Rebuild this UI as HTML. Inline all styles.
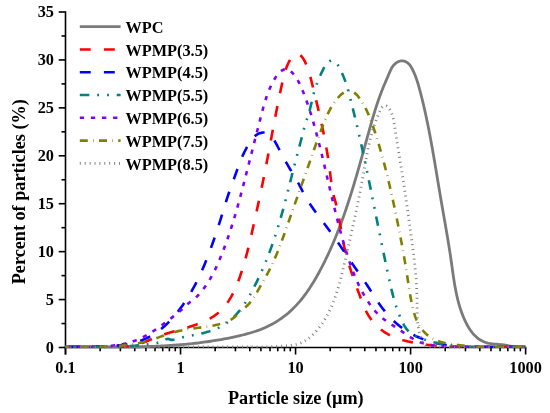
<!DOCTYPE html>
<html><head><meta charset="utf-8"><style>
html,body{margin:0;padding:0;background:#fff;}
svg{display:block;}
.t{font-family:"Liberation Serif","Times New Roman",serif;font-weight:bold;font-size:16.3px;fill:#000;}
.ax{font-family:"Liberation Serif","Times New Roman",serif;font-weight:bold;font-size:18.2px;fill:#000;}
</style></head><body>
<svg width="550" height="413" viewBox="0 0 550 413">
<line x1="65.5" y1="11.2" x2="65.5" y2="354.5" stroke="#000" stroke-width="1.6"/>
<line x1="64.7" y1="347.5" x2="526.42" y2="347.5" stroke="#000" stroke-width="1.6"/>
<line x1="58.7" y1="347.50" x2="65.5" y2="347.50" stroke="#000" stroke-width="1.6"/>
<text x="54" y="352.80" text-anchor="end" class="t">0</text>
<line x1="58.7" y1="299.57" x2="65.5" y2="299.57" stroke="#000" stroke-width="1.6"/>
<text x="54" y="304.87" text-anchor="end" class="t">5</text>
<line x1="58.7" y1="251.64" x2="65.5" y2="251.64" stroke="#000" stroke-width="1.6"/>
<text x="54" y="256.94" text-anchor="end" class="t">10</text>
<line x1="58.7" y1="203.71" x2="65.5" y2="203.71" stroke="#000" stroke-width="1.6"/>
<text x="54" y="209.01" text-anchor="end" class="t">15</text>
<line x1="58.7" y1="155.79" x2="65.5" y2="155.79" stroke="#000" stroke-width="1.6"/>
<text x="54" y="161.09" text-anchor="end" class="t">20</text>
<line x1="58.7" y1="107.86" x2="65.5" y2="107.86" stroke="#000" stroke-width="1.6"/>
<text x="54" y="113.16" text-anchor="end" class="t">25</text>
<line x1="58.7" y1="59.93" x2="65.5" y2="59.93" stroke="#000" stroke-width="1.6"/>
<text x="54" y="65.23" text-anchor="end" class="t">30</text>
<line x1="58.7" y1="12.00" x2="65.5" y2="12.00" stroke="#000" stroke-width="1.6"/>
<text x="54" y="17.30" text-anchor="end" class="t">35</text>
<line x1="61.5" y1="323.54" x2="65.5" y2="323.54" stroke="#000" stroke-width="1.6"/>
<line x1="61.5" y1="275.61" x2="65.5" y2="275.61" stroke="#000" stroke-width="1.6"/>
<line x1="61.5" y1="227.68" x2="65.5" y2="227.68" stroke="#000" stroke-width="1.6"/>
<line x1="61.5" y1="179.75" x2="65.5" y2="179.75" stroke="#000" stroke-width="1.6"/>
<line x1="61.5" y1="131.82" x2="65.5" y2="131.82" stroke="#000" stroke-width="1.6"/>
<line x1="61.5" y1="83.89" x2="65.5" y2="83.89" stroke="#000" stroke-width="1.6"/>
<line x1="61.5" y1="35.96" x2="65.5" y2="35.96" stroke="#000" stroke-width="1.6"/>
<line x1="65.50" y1="347.5" x2="65.50" y2="354.5" stroke="#000" stroke-width="1.6"/>
<text x="65.50" y="372.6" text-anchor="middle" class="t">0.1</text>
<line x1="180.53" y1="347.5" x2="180.53" y2="354.5" stroke="#000" stroke-width="1.6"/>
<text x="180.53" y="372.6" text-anchor="middle" class="t">1</text>
<line x1="295.56" y1="347.5" x2="295.56" y2="354.5" stroke="#000" stroke-width="1.6"/>
<text x="295.56" y="372.6" text-anchor="middle" class="t">10</text>
<line x1="410.59" y1="347.5" x2="410.59" y2="354.5" stroke="#000" stroke-width="1.6"/>
<text x="410.59" y="372.6" text-anchor="middle" class="t">100</text>
<line x1="525.62" y1="347.5" x2="525.62" y2="354.5" stroke="#000" stroke-width="1.6"/>
<text x="525.62" y="372.6" text-anchor="middle" class="t">1000</text>
<line x1="100.13" y1="347.5" x2="100.13" y2="351.3" stroke="#000" stroke-width="1.6"/>
<line x1="120.38" y1="347.5" x2="120.38" y2="351.3" stroke="#000" stroke-width="1.6"/>
<line x1="134.75" y1="347.5" x2="134.75" y2="351.3" stroke="#000" stroke-width="1.6"/>
<line x1="145.90" y1="347.5" x2="145.90" y2="351.3" stroke="#000" stroke-width="1.6"/>
<line x1="155.01" y1="347.5" x2="155.01" y2="351.3" stroke="#000" stroke-width="1.6"/>
<line x1="162.71" y1="347.5" x2="162.71" y2="351.3" stroke="#000" stroke-width="1.6"/>
<line x1="169.38" y1="347.5" x2="169.38" y2="351.3" stroke="#000" stroke-width="1.6"/>
<line x1="175.27" y1="347.5" x2="175.27" y2="351.3" stroke="#000" stroke-width="1.6"/>
<line x1="215.16" y1="347.5" x2="215.16" y2="351.3" stroke="#000" stroke-width="1.6"/>
<line x1="235.41" y1="347.5" x2="235.41" y2="351.3" stroke="#000" stroke-width="1.6"/>
<line x1="249.78" y1="347.5" x2="249.78" y2="351.3" stroke="#000" stroke-width="1.6"/>
<line x1="260.93" y1="347.5" x2="260.93" y2="351.3" stroke="#000" stroke-width="1.6"/>
<line x1="270.04" y1="347.5" x2="270.04" y2="351.3" stroke="#000" stroke-width="1.6"/>
<line x1="277.74" y1="347.5" x2="277.74" y2="351.3" stroke="#000" stroke-width="1.6"/>
<line x1="284.41" y1="347.5" x2="284.41" y2="351.3" stroke="#000" stroke-width="1.6"/>
<line x1="290.30" y1="347.5" x2="290.30" y2="351.3" stroke="#000" stroke-width="1.6"/>
<line x1="330.19" y1="347.5" x2="330.19" y2="351.3" stroke="#000" stroke-width="1.6"/>
<line x1="350.44" y1="347.5" x2="350.44" y2="351.3" stroke="#000" stroke-width="1.6"/>
<line x1="364.81" y1="347.5" x2="364.81" y2="351.3" stroke="#000" stroke-width="1.6"/>
<line x1="375.96" y1="347.5" x2="375.96" y2="351.3" stroke="#000" stroke-width="1.6"/>
<line x1="385.07" y1="347.5" x2="385.07" y2="351.3" stroke="#000" stroke-width="1.6"/>
<line x1="392.77" y1="347.5" x2="392.77" y2="351.3" stroke="#000" stroke-width="1.6"/>
<line x1="399.44" y1="347.5" x2="399.44" y2="351.3" stroke="#000" stroke-width="1.6"/>
<line x1="405.33" y1="347.5" x2="405.33" y2="351.3" stroke="#000" stroke-width="1.6"/>
<line x1="445.22" y1="347.5" x2="445.22" y2="351.3" stroke="#000" stroke-width="1.6"/>
<line x1="465.47" y1="347.5" x2="465.47" y2="351.3" stroke="#000" stroke-width="1.6"/>
<line x1="479.84" y1="347.5" x2="479.84" y2="351.3" stroke="#000" stroke-width="1.6"/>
<line x1="490.99" y1="347.5" x2="490.99" y2="351.3" stroke="#000" stroke-width="1.6"/>
<line x1="500.10" y1="347.5" x2="500.10" y2="351.3" stroke="#000" stroke-width="1.6"/>
<line x1="507.80" y1="347.5" x2="507.80" y2="351.3" stroke="#000" stroke-width="1.6"/>
<line x1="514.47" y1="347.5" x2="514.47" y2="351.3" stroke="#000" stroke-width="1.6"/>
<line x1="520.36" y1="347.5" x2="520.36" y2="351.3" stroke="#000" stroke-width="1.6"/>
<text x="295.8" y="404" text-anchor="middle" class="ax">Particle size (µm)</text>
<text transform="translate(24.5,191.8) rotate(-90)" x="0" y="0" text-anchor="middle" class="ax">Percent of particles (%)</text>
<path d="M65.51,346.80 L67.21,346.80 L68.92,346.80 L70.63,346.80 L72.34,346.80 L74.05,346.80 L75.76,346.80 L77.47,346.80 L79.18,346.80 L80.89,346.80 L82.60,346.80 L84.31,346.80 L86.02,346.80 L87.73,346.80 L89.44,346.80 L91.15,346.80 L92.86,346.80 L94.57,346.80 L96.28,346.80 L98.00,346.80 L99.71,346.80 L101.42,346.80 L103.13,346.80 L104.84,346.80 L106.56,346.80 L108.27,346.80 L109.98,346.80 L111.69,346.80 L113.41,346.80 L115.12,346.80 L116.83,346.80 L118.54,346.80 L120.26,346.80 L121.97,346.80 L123.68,346.80 L125.39,346.80 L127.11,346.80 L128.82,346.80 L130.53,346.80 L132.24,346.80 L133.95,346.80 L135.66,346.80 L137.38,346.80 L139.09,346.78 L140.80,346.74 L142.51,346.69 L144.22,346.64 L145.93,346.59 L147.64,346.54 L149.35,346.48 L151.06,346.42 L152.77,346.35 L154.48,346.29 L156.18,346.21 L157.89,346.14 L159.60,346.06 L161.31,345.97 L163.01,345.88 L164.72,345.79 L166.43,345.69 L168.13,345.59 L169.84,345.48 L171.54,345.37 L173.25,345.25 L174.95,345.13 L176.66,345.00 L178.36,344.87 L180.06,344.74 L181.76,344.59 L183.46,344.45 L185.17,344.29 L186.87,344.13 L188.57,343.97 L190.26,343.80 L191.96,343.62 L193.66,343.44 L195.36,343.25 L197.06,343.05 L198.75,342.85 L200.45,342.64 L202.14,342.43 L203.84,342.21 L205.53,341.98 L207.22,341.74 L208.91,341.50 L210.60,341.25 L212.30,340.99 L213.98,340.73 L215.67,340.46 L217.36,340.18 L219.05,339.89 L220.74,339.60 L222.42,339.30 L224.11,338.98 L225.79,338.67 L227.47,338.34 L229.15,338.01 L230.84,337.66 L232.52,337.31 L234.19,336.95 L235.87,336.58 L237.55,336.21 L239.23,335.82 L240.90,335.42 L242.57,335.01 L244.24,334.59 L245.90,334.16 L247.56,333.71 L249.22,333.24 L250.86,332.76 L252.50,332.26 L254.14,331.75 L255.76,331.21 L257.38,330.65 L258.99,330.07 L260.59,329.47 L262.18,328.85 L263.75,328.20 L265.32,327.52 L266.87,326.82 L268.41,326.09 L269.94,325.33 L271.45,324.54 L272.95,323.72 L274.43,322.87 L275.89,322.00 L277.34,321.10 L278.78,320.17 L280.19,319.21 L281.59,318.23 L282.97,317.22 L284.34,316.19 L285.68,315.14 L287.00,314.06 L288.31,312.96 L289.59,311.83 L290.86,310.69 L292.10,309.52 L293.33,308.33 L294.53,307.13 L295.71,305.90 L296.87,304.65 L298.01,303.39 L299.14,302.11 L300.24,300.81 L301.33,299.49 L302.40,298.16 L303.45,296.82 L304.49,295.46 L305.51,294.08 L306.51,292.70 L307.50,291.29 L308.47,289.88 L309.43,288.46 L310.37,287.02 L311.30,285.58 L312.22,284.12 L313.12,282.66 L314.01,281.19 L314.89,279.71 L315.76,278.22 L316.62,276.73 L317.46,275.23 L318.30,273.72 L319.12,272.21 L319.94,270.69 L320.75,269.18 L321.55,267.66 L322.34,266.13 L323.12,264.60 L323.89,263.07 L324.65,261.54 L325.41,260.00 L326.16,258.46 L326.90,256.91 L327.63,255.37 L328.36,253.82 L329.07,252.27 L329.78,250.71 L330.48,249.15 L331.18,247.59 L331.87,246.03 L332.55,244.46 L333.22,242.89 L333.89,241.32 L334.55,239.75 L335.20,238.17 L335.85,236.59 L336.49,235.01 L337.12,233.43 L337.75,231.84 L338.37,230.25 L338.99,228.66 L339.59,227.07 L340.20,225.47 L340.80,223.87 L341.39,222.27 L341.98,220.67 L342.56,219.07 L343.14,217.46 L343.71,215.86 L344.27,214.25 L344.84,212.63 L345.39,211.02 L345.95,209.41 L346.49,207.79 L347.04,206.17 L347.58,204.55 L348.11,202.93 L348.64,201.31 L349.17,199.68 L349.69,198.06 L350.21,196.43 L350.73,194.80 L351.24,193.17 L351.75,191.54 L352.25,189.90 L352.75,188.27 L353.25,186.63 L353.75,185.00 L354.24,183.36 L354.73,181.72 L355.22,180.08 L355.70,178.44 L356.19,176.80 L356.67,175.15 L357.14,173.51 L357.62,171.87 L358.09,170.22 L358.57,168.57 L359.04,166.93 L359.51,165.28 L359.97,163.63 L360.44,161.98 L360.90,160.33 L361.37,158.68 L361.83,157.03 L362.29,155.38 L362.75,153.73 L363.21,152.08 L363.67,150.43 L364.13,148.78 L364.58,147.13 L365.04,145.47 L365.50,143.82 L365.95,142.17 L366.41,140.52 L366.87,138.87 L367.33,137.21 L367.78,135.56 L368.24,133.91 L368.70,132.26 L369.16,130.61 L369.62,128.95 L370.08,127.30 L370.55,125.65 L371.02,124.01 L371.49,122.36 L371.96,120.71 L372.44,119.07 L372.92,117.43 L373.41,115.79 L373.90,114.15 L374.40,112.51 L374.90,110.88 L375.41,109.25 L375.92,107.63 L376.45,106.00 L376.98,104.38 L377.52,102.76 L378.06,101.15 L378.62,99.54 L379.18,97.94 L379.76,96.34 L380.34,94.74 L380.94,93.15 L381.54,91.57 L382.16,89.99 L382.79,88.41 L383.43,86.84 L384.09,85.28 L384.75,83.72 L385.42,82.16 L386.10,80.60 L386.78,79.04 L387.46,77.47 L388.13,75.90 L388.80,74.32 L389.46,72.73 L390.14,71.14 L390.87,69.58 L391.68,68.06 L392.61,66.60 L393.67,65.22 L394.89,63.95 L396.24,62.82 L397.70,61.89 L399.26,61.21 L400.88,60.83 L402.55,60.78 L404.21,61.09 L405.82,61.70 L407.29,62.57 L408.59,63.66 L409.73,64.94 L410.75,66.35 L411.65,67.86 L412.48,69.42 L413.26,71.01 L413.98,72.60 L414.67,74.19 L415.31,75.79 L415.92,77.40 L416.49,79.01 L417.03,80.63 L417.55,82.25 L418.05,83.87 L418.53,85.50 L418.99,87.13 L419.44,88.77 L419.88,90.40 L420.31,92.04 L420.74,93.69 L421.16,95.33 L421.58,96.98 L421.99,98.62 L422.40,100.27 L422.80,101.93 L423.20,103.58 L423.59,105.24 L423.97,106.90 L424.36,108.56 L424.73,110.22 L425.11,111.88 L425.47,113.55 L425.84,115.21 L426.20,116.88 L426.55,118.55 L426.90,120.22 L427.25,121.89 L427.60,123.57 L427.94,125.24 L428.27,126.92 L428.61,128.60 L428.94,130.28 L429.26,131.96 L429.59,133.64 L429.91,135.32 L430.22,137.00 L430.54,138.69 L430.85,140.37 L431.16,142.06 L431.47,143.75 L431.77,145.43 L432.08,147.12 L432.38,148.81 L432.67,150.50 L432.97,152.19 L433.27,153.88 L433.56,155.57 L433.85,157.26 L434.14,158.95 L434.43,160.64 L434.72,162.33 L435.00,164.03 L435.29,165.72 L435.57,167.41 L435.85,169.10 L436.14,170.80 L436.42,172.49 L436.70,174.18 L436.98,175.87 L437.26,177.56 L437.54,179.25 L437.83,180.95 L438.11,182.64 L438.39,184.33 L438.67,186.02 L438.95,187.71 L439.23,189.39 L439.52,191.08 L439.80,192.77 L440.08,194.46 L440.37,196.14 L440.66,197.83 L440.94,199.51 L441.23,201.19 L441.52,202.88 L441.81,204.56 L442.11,206.24 L442.40,207.92 L442.69,209.60 L442.99,211.28 L443.28,212.96 L443.57,214.64 L443.87,216.32 L444.16,217.99 L444.46,219.67 L444.75,221.35 L445.04,223.03 L445.34,224.71 L445.63,226.39 L445.92,228.07 L446.21,229.74 L446.49,231.42 L446.78,233.11 L447.07,234.79 L447.35,236.47 L447.63,238.15 L447.91,239.83 L448.19,241.52 L448.47,243.20 L448.74,244.89 L449.01,246.58 L449.28,248.27 L449.55,249.96 L449.81,251.65 L450.07,253.34 L450.33,255.04 L450.58,256.73 L450.83,258.43 L451.08,260.13 L451.32,261.83 L451.56,263.53 L451.80,265.24 L452.03,266.94 L452.27,268.65 L452.51,270.35 L452.75,272.06 L453.00,273.76 L453.24,275.47 L453.50,277.17 L453.75,278.88 L454.02,280.58 L454.29,282.27 L454.57,283.97 L454.86,285.67 L455.16,287.36 L455.48,289.04 L455.80,290.73 L456.14,292.41 L456.49,294.09 L456.85,295.76 L457.24,297.42 L457.63,299.09 L458.05,300.74 L458.49,302.40 L458.94,304.04 L459.41,305.68 L459.91,307.31 L460.43,308.94 L460.97,310.56 L461.54,312.17 L462.13,313.77 L462.75,315.36 L463.39,316.95 L464.06,318.53 L464.76,320.10 L465.49,321.65 L466.26,323.20 L467.05,324.72 L467.89,326.22 L468.76,327.69 L469.67,329.13 L470.62,330.52 L471.62,331.88 L472.66,333.18 L473.75,334.44 L474.89,335.63 L476.09,336.77 L477.33,337.83 L478.64,338.83 L480.00,339.75 L481.42,340.58 L482.90,341.33 L484.45,341.99 L486.07,342.55 L487.75,343.02 L489.50,343.38 L491.30,343.66 L493.13,343.88 L494.97,344.06 L496.81,344.22 L498.62,344.37 L500.40,344.54 L502.12,344.74 L503.79,344.98 L505.42,345.23 L507.02,345.49 L508.61,345.76 L510.18,346.03 L511.76,346.28 L513.35,346.51 L514.95,346.71 L516.59,346.80 L518.27,346.80 L520.00,346.80 L521.79,346.80 L523.65,346.80 L525.59,346.80" fill="none" stroke="#7a7a7a" stroke-width="2.8"/>
<path d="M65.50,346.80 L67.26,346.80 L69.02,346.80 L70.78,346.80 L72.53,346.80 L74.29,346.80 L76.04,346.80 L77.79,346.80 L79.54,346.80 L81.30,346.80 L83.05,346.80 L84.80,346.80 L86.55,346.80 L88.30,346.80 L90.05,346.80 L91.80,346.80 L93.55,346.80 L95.30,346.80 L97.05,346.80 L98.81,346.80 L100.56,346.80 L102.32,346.80 L104.08,346.80 L105.84,346.80 L107.60,346.80 L109.37,346.80 L111.13,346.80 L112.90,346.80 L114.67,346.80 L116.44,346.80 L118.21,346.80 L119.98,346.80 L121.74,346.80 L123.50,346.74 L125.25,346.65 L127.00,346.52 L128.74,346.35 L130.48,346.14 L132.21,345.88 L133.92,345.57 L135.63,345.20 L137.32,344.77 L139.01,344.28 L140.68,343.71 L142.34,343.08 L143.98,342.40 L145.62,341.69 L147.26,340.95 L148.89,340.22 L150.52,339.51 L152.15,338.82 L153.78,338.16 L155.42,337.52 L157.05,336.90 L158.69,336.31 L160.33,335.73 L161.97,335.17 L163.62,334.63 L165.26,334.10 L166.91,333.58 L168.56,333.07 L170.21,332.58 L171.87,332.08 L173.52,331.60 L175.18,331.11 L176.84,330.63 L178.51,330.15 L180.18,329.67 L181.85,329.18 L183.52,328.68 L185.20,328.18 L186.88,327.67 L188.56,327.15 L190.24,326.61 L191.93,326.07 L193.62,325.50 L195.31,324.92 L196.99,324.31 L198.66,323.69 L200.32,323.04 L201.97,322.36 L203.60,321.66 L205.22,320.93 L206.81,320.17 L208.38,319.37 L209.92,318.54 L211.43,317.67 L212.91,316.76 L214.35,315.81 L215.76,314.82 L217.12,313.79 L218.45,312.71 L219.72,311.58 L220.96,310.41 L222.16,309.19 L223.31,307.94 L224.42,306.64 L225.50,305.31 L226.54,303.94 L227.55,302.54 L228.52,301.11 L229.46,299.65 L230.36,298.16 L231.24,296.64 L232.08,295.10 L232.90,293.54 L233.69,291.96 L234.45,290.36 L235.19,288.74 L235.91,287.10 L236.60,285.46 L237.28,283.80 L237.93,282.13 L238.56,280.45 L239.18,278.77 L239.78,277.09 L240.36,275.40 L240.93,273.71 L241.49,272.02 L242.04,270.33 L242.57,268.65 L243.09,266.96 L243.60,265.28 L244.10,263.59 L244.59,261.91 L245.07,260.22 L245.54,258.54 L246.00,256.85 L246.45,255.17 L246.90,253.48 L247.33,251.80 L247.76,250.11 L248.19,248.43 L248.60,246.74 L249.02,245.05 L249.42,243.36 L249.82,241.68 L250.22,239.99 L250.61,238.29 L251.00,236.60 L251.39,234.91 L251.77,233.21 L252.15,231.52 L252.53,229.82 L252.91,228.12 L253.29,226.41 L253.66,224.71 L254.04,223.00 L254.42,221.30 L254.80,219.59 L255.17,217.88 L255.55,216.16 L255.93,214.45 L256.31,212.73 L256.68,211.01 L257.06,209.29 L257.44,207.57 L257.81,205.85 L258.18,204.13 L258.56,202.41 L258.93,200.68 L259.30,198.96 L259.67,197.23 L260.04,195.51 L260.40,193.78 L260.77,192.06 L261.13,190.33 L261.49,188.60 L261.85,186.88 L262.21,185.15 L262.56,183.43 L262.92,181.70 L263.27,179.98 L263.62,178.26 L263.96,176.53 L264.30,174.81 L264.64,173.09 L264.98,171.37 L265.32,169.65 L265.65,167.93 L265.99,166.21 L266.32,164.49 L266.65,162.77 L266.98,161.06 L267.30,159.34 L267.63,157.62 L267.96,155.90 L268.28,154.18 L268.60,152.47 L268.92,150.75 L269.25,149.03 L269.57,147.31 L269.89,145.59 L270.21,143.87 L270.53,142.15 L270.85,140.43 L271.17,138.71 L271.49,136.99 L271.81,135.27 L272.14,133.55 L272.46,131.82 L272.78,130.10 L273.11,128.38 L273.43,126.65 L273.76,124.93 L274.08,123.20 L274.41,121.47 L274.74,119.75 L275.07,118.02 L275.40,116.29 L275.74,114.57 L276.07,112.84 L276.41,111.12 L276.75,109.39 L277.08,107.67 L277.43,105.95 L277.77,104.23 L278.11,102.51 L278.46,100.79 L278.81,99.07 L279.16,97.36 L279.51,95.65 L279.87,93.94 L280.23,92.24 L280.59,90.53 L280.95,88.83 L281.32,87.13 L281.68,85.44 L282.05,83.75 L282.43,82.06 L282.80,80.38 L283.19,78.70 L283.59,77.02 L284.01,75.35 L284.45,73.68 L284.93,72.01 L285.45,70.34 L286.02,68.68 L286.64,67.01 L287.31,65.35 L288.05,63.69 L288.86,62.03 L289.75,60.37 L290.72,58.71 L291.79,57.11 L292.96,55.71 L294.25,54.64 L295.69,54.04 L297.25,54.01 L298.84,54.48 L300.33,55.34 L301.66,56.52 L302.83,57.94 L303.87,59.55 L304.79,61.29 L305.62,63.08 L306.37,64.86 L307.06,66.61 L307.70,68.33 L308.29,70.01 L308.83,71.66 L309.34,73.29 L309.81,74.90 L310.26,76.50 L310.68,78.09 L311.09,79.68 L311.49,81.28 L311.88,82.88 L312.27,84.49 L312.66,86.12 L313.06,87.77 L313.47,89.43 L313.88,91.11 L314.29,92.80 L314.71,94.50 L315.13,96.21 L315.55,97.93 L315.97,99.66 L316.39,101.39 L316.81,103.13 L317.23,104.87 L317.65,106.61 L318.06,108.35 L318.47,110.09 L318.88,111.83 L319.29,113.57 L319.69,115.30 L320.08,117.03 L320.47,118.76 L320.86,120.49 L321.24,122.21 L321.62,123.93 L321.99,125.65 L322.36,127.37 L322.72,129.08 L323.08,130.80 L323.43,132.51 L323.78,134.22 L324.12,135.94 L324.46,137.65 L324.79,139.36 L325.12,141.07 L325.44,142.78 L325.76,144.50 L326.07,146.21 L326.37,147.92 L326.67,149.64 L326.97,151.35 L327.25,153.07 L327.53,154.79 L327.81,156.51 L328.08,158.23 L328.34,159.95 L328.60,161.68 L328.85,163.41 L329.10,165.14 L329.34,166.87 L329.57,168.61 L329.79,170.35 L330.01,172.10 L330.22,173.84 L330.43,175.59 L330.63,177.35 L330.84,179.10 L331.05,180.85 L331.26,182.60 L331.49,184.34 L331.74,186.08 L332.01,187.80 L332.30,189.51 L332.62,191.21 L332.97,192.90 L333.36,194.56 L333.78,196.21 L334.25,197.84 L334.73,199.46 L335.21,201.08 L335.67,202.71 L336.11,204.36 L336.53,206.01 L336.92,207.68 L337.30,209.35 L337.66,211.04 L338.01,212.73 L338.34,214.43 L338.67,216.14 L338.98,217.85 L339.29,219.57 L339.58,221.29 L339.88,223.02 L340.17,224.75 L340.45,226.48 L340.74,228.22 L341.03,229.95 L341.32,231.69 L341.62,233.43 L341.92,235.17 L342.23,236.90 L342.55,238.64 L342.88,240.37 L343.22,242.10 L343.57,243.82 L343.94,245.54 L344.33,247.25 L344.73,248.96 L345.14,250.67 L345.57,252.37 L346.01,254.07 L346.46,255.77 L346.92,257.46 L347.39,259.15 L347.88,260.83 L348.37,262.51 L348.88,264.19 L349.39,265.87 L349.92,267.54 L350.45,269.21 L350.99,270.88 L351.54,272.54 L352.09,274.21 L352.66,275.87 L353.23,277.52 L353.80,279.18 L354.38,280.84 L354.97,282.49 L355.56,284.14 L356.15,285.79 L356.75,287.44 L357.35,289.09 L357.95,290.74 L358.56,292.38 L359.17,294.03 L359.78,295.67 L360.39,297.32 L361.00,298.96 L361.62,300.60 L362.24,302.23 L362.88,303.86 L363.54,305.48 L364.23,307.09 L364.94,308.68 L365.68,310.26 L366.45,311.82 L367.27,313.35 L368.13,314.87 L369.04,316.36 L370.00,317.82 L371.02,319.25 L372.10,320.65 L373.22,322.02 L374.39,323.36 L375.61,324.65 L376.88,325.91 L378.18,327.13 L379.53,328.30 L380.91,329.43 L382.32,330.52 L383.77,331.56 L385.24,332.54 L386.74,333.48 L388.26,334.36 L389.81,335.19 L391.37,335.96 L392.96,336.68 L394.56,337.36 L396.17,337.99 L397.80,338.58 L399.45,339.14 L401.11,339.65 L402.78,340.13 L404.46,340.59 L406.15,341.01 L407.84,341.41 L409.55,341.78 L411.26,342.14 L412.97,342.48 L414.69,342.81 L416.41,343.12 L418.14,343.42 L419.87,343.70 L421.60,343.97 L423.34,344.23 L425.07,344.47 L426.82,344.70 L428.56,344.92 L430.30,345.12 L432.05,345.32 L433.80,345.50 L435.55,345.67 L437.30,345.83 L439.05,345.98 L440.81,346.13 L442.56,346.26 L444.32,346.38 L446.07,346.49 L447.83,346.59 L449.59,346.69 L451.34,346.77 L453.10,346.80 L454.86,346.80 L456.61,346.80 L458.37,346.80 L460.12,346.80 L461.88,346.80 L463.63,346.80 L465.38,346.80 L467.14,346.80 L468.89,346.80 L470.64,346.80 L472.40,346.80 L474.15,346.80 L475.90,346.80 L477.65,346.80 L479.40,346.80 L481.16,346.80 L482.91,346.80 L484.66,346.80 L486.41,346.80 L488.16,346.80 L489.92,346.80 L491.67,346.80 L493.42,346.80 L495.17,346.80 L496.93,346.80 L498.68,346.80 L500.43,346.80 L502.18,346.80 L503.94,346.80 L505.69,346.80 L507.45,346.80 L509.20,346.80 L510.95,346.80 L512.71,346.80 L514.46,346.80 L516.22,346.80 L517.98,346.80 L519.73,346.80 L521.49,346.80 L523.25,346.80 L525.01,346.80" fill="none" stroke="#ff0000" stroke-width="2.6" stroke-dasharray="10.9 13.2" stroke-dashoffset="19.65"/>
<path d="M65.65,346.80 L66.97,346.80 L68.30,346.80 L69.64,346.80 L70.98,346.80 L72.34,346.80 L73.70,346.80 L75.06,346.80 L76.44,346.80 L77.81,346.78 L79.20,346.77 L80.59,346.76 L81.99,346.75 L83.39,346.74 L84.79,346.73 L86.20,346.73 L87.61,346.72 L89.03,346.72 L90.45,346.71 L91.87,346.70 L93.29,346.69 L94.72,346.67 L96.15,346.65 L97.57,346.63 L99.00,346.60 L100.43,346.57 L101.86,346.53 L103.29,346.48 L104.72,346.43 L106.15,346.37 L107.58,346.30 L109.00,346.22 L110.43,346.13 L111.85,346.04 L113.27,345.93 L114.68,345.81 L116.09,345.68 L117.50,345.53 L118.91,345.38 L120.31,345.21 L121.70,345.02 L123.09,344.83 L124.47,344.61 L125.85,344.38 L127.22,344.14 L128.59,343.87 L129.95,343.59 L131.30,343.30 L132.64,342.98 L133.98,342.64 L135.31,342.29 L136.63,341.91 L137.94,341.51 L139.24,341.09 L140.53,340.65 L141.81,340.19 L143.08,339.70 L144.34,339.19 L145.59,338.65 L146.82,338.09 L148.05,337.50 L149.26,336.89 L150.46,336.25 L151.65,335.58 L152.82,334.89 L153.98,334.17 L155.13,333.43 L156.27,332.66 L157.40,331.87 L158.51,331.06 L159.61,330.23 L160.69,329.37 L161.77,328.50 L162.83,327.60 L163.88,326.69 L164.92,325.76 L165.94,324.81 L166.96,323.85 L167.96,322.87 L168.95,321.87 L169.93,320.86 L170.89,319.84 L171.85,318.80 L172.79,317.76 L173.72,316.70 L174.64,315.63 L175.54,314.55 L176.44,313.46 L177.32,312.36 L178.19,311.26 L179.05,310.14 L179.90,309.03 L180.74,307.90 L181.57,306.77 L182.38,305.64 L183.19,304.50 L183.98,303.35 L184.76,302.20 L185.54,301.04 L186.30,299.88 L187.05,298.71 L187.79,297.53 L188.53,296.35 L189.25,295.17 L189.96,293.98 L190.67,292.79 L191.36,291.59 L192.05,290.38 L192.73,289.18 L193.40,287.96 L194.06,286.75 L194.71,285.53 L195.36,284.30 L195.99,283.07 L196.62,281.83 L197.24,280.60 L197.85,279.35 L198.46,278.11 L199.06,276.86 L199.65,275.60 L200.24,274.35 L200.81,273.09 L201.39,271.82 L201.95,270.55 L202.51,269.28 L203.06,268.01 L203.61,266.73 L204.15,265.45 L204.69,264.17 L205.22,262.88 L205.74,261.59 L206.26,260.30 L206.78,259.01 L207.29,257.71 L207.80,256.41 L208.30,255.11 L208.79,253.80 L209.29,252.50 L209.78,251.19 L210.26,249.88 L210.74,248.57 L211.22,247.25 L211.70,245.93 L212.17,244.62 L212.64,243.30 L213.10,241.98 L213.56,240.65 L214.02,239.33 L214.48,238.01 L214.93,236.68 L215.38,235.35 L215.83,234.02 L216.28,232.69 L216.72,231.36 L217.16,230.03 L217.60,228.70 L218.03,227.37 L218.46,226.04 L218.89,224.71 L219.32,223.38 L219.74,222.04 L220.16,220.71 L220.58,219.38 L221.00,218.05 L221.41,216.72 L221.82,215.38 L222.23,214.05 L222.64,212.72 L223.05,211.40 L223.45,210.07 L223.86,208.74 L224.26,207.41 L224.66,206.09 L225.07,204.77 L225.48,203.45 L225.89,202.13 L226.30,200.81 L226.72,199.50 L227.14,198.19 L227.57,196.88 L228.00,195.57 L228.44,194.27 L228.88,192.97 L229.33,191.67 L229.78,190.37 L230.24,189.08 L230.70,187.78 L231.16,186.49 L231.63,185.19 L232.10,183.89 L232.57,182.59 L233.05,181.29 L233.52,179.99 L234.00,178.68 L234.47,177.37 L234.95,176.05 L235.42,174.73 L235.89,173.40 L236.36,172.07 L236.84,170.74 L237.31,169.41 L237.79,168.08 L238.26,166.75 L238.75,165.43 L239.23,164.12 L239.72,162.82 L240.22,161.53 L240.73,160.25 L241.24,159.00 L241.76,157.75 L242.30,156.53 L242.84,155.31 L243.40,154.10 L243.97,152.90 L244.56,151.70 L245.17,150.49 L245.80,149.28 L246.45,148.06 L247.12,146.83 L247.82,145.59 L248.55,144.34 L249.31,143.08 L250.10,141.84 L250.93,140.63 L251.80,139.45 L252.72,138.33 L253.68,137.27 L254.70,136.28 L255.78,135.38 L256.91,134.58 L258.11,133.89 L259.38,133.32 L260.71,132.90 L262.10,132.62 L263.51,132.50 L264.90,132.55 L266.25,132.78 L267.52,133.20 L268.69,133.81 L269.78,134.59 L270.80,135.51 L271.74,136.55 L272.62,137.70 L273.45,138.92 L274.24,140.20 L274.99,141.51 L275.71,142.84 L276.42,144.16 L277.11,145.45 L277.79,146.74 L278.46,148.01 L279.12,149.26 L279.77,150.50 L280.42,151.74 L281.06,152.96 L281.70,154.17 L282.34,155.38 L282.98,156.58 L283.62,157.78 L284.26,158.97 L284.92,160.16 L285.57,161.35 L286.24,162.54 L286.92,163.73 L287.61,164.93 L288.31,166.13 L289.02,167.33 L289.73,168.53 L290.45,169.73 L291.18,170.94 L291.90,172.14 L292.63,173.35 L293.35,174.56 L294.08,175.77 L294.80,176.98 L295.51,178.19 L296.22,179.41 L296.91,180.62 L297.60,181.83 L298.28,183.04 L298.94,184.25 L299.58,185.46 L300.21,186.67 L300.83,187.88 L301.44,189.08 L302.04,190.28 L302.65,191.48 L303.27,192.67 L303.90,193.86 L304.55,195.05 L305.21,196.23 L305.89,197.40 L306.58,198.57 L307.29,199.74 L308.01,200.90 L308.74,202.05 L309.49,203.21 L310.24,204.36 L311.01,205.50 L311.79,206.65 L312.57,207.79 L313.37,208.92 L314.17,210.06 L314.98,211.19 L315.79,212.32 L316.62,213.45 L317.44,214.58 L318.28,215.71 L319.11,216.83 L319.96,217.96 L320.80,219.08 L321.65,220.20 L322.49,221.32 L323.34,222.45 L324.19,223.57 L325.04,224.69 L325.89,225.81 L326.73,226.94 L327.58,228.06 L328.42,229.19 L329.26,230.31 L330.09,231.44 L330.92,232.57 L331.74,233.71 L332.56,234.84 L333.38,235.98 L334.19,237.11 L334.99,238.25 L335.79,239.39 L336.59,240.53 L337.39,241.68 L338.18,242.82 L338.97,243.97 L339.75,245.11 L340.54,246.26 L341.32,247.41 L342.10,248.55 L342.88,249.70 L343.65,250.85 L344.43,252.00 L345.20,253.15 L345.98,254.30 L346.75,255.45 L347.53,256.60 L348.30,257.75 L349.08,258.90 L349.85,260.05 L350.63,261.20 L351.41,262.35 L352.19,263.49 L352.97,264.64 L353.75,265.79 L354.54,266.93 L355.33,268.08 L356.12,269.22 L356.92,270.36 L357.71,271.50 L358.51,272.64 L359.31,273.78 L360.11,274.93 L360.91,276.07 L361.70,277.21 L362.50,278.35 L363.29,279.50 L364.08,280.65 L364.86,281.80 L365.64,282.95 L366.42,284.11 L367.19,285.27 L367.95,286.43 L368.70,287.60 L369.45,288.76 L370.20,289.94 L370.94,291.11 L371.69,292.28 L372.43,293.45 L373.17,294.62 L373.92,295.79 L374.67,296.96 L375.42,298.13 L376.18,299.29 L376.95,300.45 L377.73,301.61 L378.51,302.76 L379.30,303.90 L380.11,305.04 L380.92,306.18 L381.76,307.30 L382.60,308.42 L383.46,309.53 L384.33,310.63 L385.21,311.72 L386.11,312.80 L387.02,313.86 L387.94,314.92 L388.88,315.96 L389.83,316.99 L390.79,318.01 L391.77,319.02 L392.76,320.00 L393.77,320.98 L394.79,321.93 L395.82,322.87 L396.86,323.80 L397.92,324.70 L399.00,325.59 L400.08,326.45 L401.18,327.30 L402.30,328.13 L403.43,328.93 L404.57,329.72 L405.73,330.48 L406.89,331.22 L408.07,331.95 L409.27,332.65 L410.47,333.33 L411.69,333.99 L412.92,334.63 L414.16,335.26 L415.40,335.86 L416.66,336.45 L417.93,337.01 L419.21,337.56 L420.49,338.09 L421.79,338.60 L423.09,339.10 L424.40,339.57 L425.72,340.03 L427.04,340.48 L428.37,340.90 L429.71,341.31 L431.05,341.71 L432.40,342.08 L433.76,342.44 L435.12,342.79 L436.48,343.12 L437.85,343.44 L439.22,343.74 L440.59,344.02 L441.97,344.29 L443.34,344.55 L444.73,344.79 L446.11,345.02 L447.49,345.24 L448.88,345.44 L450.26,345.63 L451.65,345.81 L453.04,345.98 L454.43,346.13 L455.81,346.27 L457.20,346.40 L458.59,346.52 L459.98,346.63 L461.37,346.73 L462.77,346.80 L464.16,346.80 L465.55,346.80 L466.94,346.80 L468.34,346.80 L469.73,346.80 L471.12,346.80 L472.52,346.80 L473.91,346.80 L475.31,346.80 L476.70,346.80 L478.10,346.80 L479.50,346.80 L480.89,346.80 L482.29,346.80 L483.69,346.80 L485.08,346.80 L486.48,346.80 L487.88,346.80 L489.28,346.80 L490.67,346.80 L492.07,346.80 L493.47,346.80 L494.87,346.80 L496.27,346.80 L497.66,346.80 L499.06,346.80 L500.46,346.80 L501.86,346.80 L503.26,346.80 L504.65,346.80 L506.05,346.80 L507.45,346.80 L508.85,346.80 L510.24,346.80 L511.64,346.80 L513.04,346.80 L514.43,346.80 L515.83,346.80 L517.23,346.80 L518.62,346.80 L520.02,346.80 L521.41,346.80 L522.81,346.80 L524.20,346.80 L525.60,346.80" fill="none" stroke="#0000ff" stroke-width="2.6" stroke-dasharray="10.9 13.2" stroke-dashoffset="21.31"/>
<path d="M65.51,346.80 L67.23,346.80 L68.95,346.80 L70.67,346.80 L72.39,346.80 L74.12,346.80 L75.84,346.80 L77.57,346.80 L79.29,346.80 L81.02,346.80 L82.75,346.80 L84.47,346.80 L86.20,346.80 L87.93,346.80 L89.66,346.80 L91.39,346.80 L93.12,346.80 L94.85,346.80 L96.58,346.80 L98.31,346.80 L100.04,346.80 L101.77,346.80 L103.50,346.80 L105.22,346.80 L106.95,346.80 L108.68,346.80 L110.41,346.80 L112.14,346.76 L113.87,346.72 L115.59,346.68 L117.32,346.63 L119.05,346.57 L120.77,346.51 L122.50,346.43 L124.22,346.36 L125.94,346.27 L127.67,346.17 L129.39,346.07 L131.11,345.96 L132.83,345.84 L134.54,345.71 L136.26,345.56 L137.97,345.41 L139.69,345.25 L141.40,345.07 L143.11,344.89 L144.82,344.69 L146.53,344.48 L148.23,344.25 L149.94,344.01 L151.64,343.76 L153.34,343.50 L155.04,343.22 L156.74,342.92 L158.43,342.61 L160.12,342.28 L161.78,341.76 L163.37,340.88 L164.90,339.90 L166.40,339.13 L167.88,338.86 L169.38,339.34 L170.92,339.83 L172.52,339.84 L174.17,339.53 L175.83,339.06 L177.51,338.59 L179.19,338.15 L180.87,337.74 L182.55,337.34 L184.24,336.97 L185.93,336.61 L187.61,336.27 L189.30,335.93 L190.99,335.61 L192.68,335.28 L194.36,334.95 L196.04,334.62 L197.72,334.28 L199.39,333.93 L201.06,333.56 L202.72,333.17 L204.38,332.77 L206.03,332.34 L207.67,331.87 L209.31,331.38 L210.93,330.85 L212.55,330.29 L214.15,329.68 L215.74,329.03 L217.31,328.35 L218.87,327.62 L220.40,326.85 L221.91,326.03 L223.39,325.18 L224.84,324.27 L226.27,323.32 L227.66,322.32 L229.02,321.28 L230.34,320.19 L231.63,319.06 L232.89,317.89 L234.12,316.69 L235.32,315.46 L236.49,314.20 L237.63,312.92 L238.73,311.61 L239.82,310.29 L240.87,308.94 L241.90,307.57 L242.90,306.19 L243.88,304.79 L244.84,303.37 L245.77,301.94 L246.69,300.49 L247.58,299.03 L248.46,297.55 L249.32,296.07 L250.16,294.58 L250.99,293.07 L251.81,291.56 L252.61,290.04 L253.40,288.51 L254.18,286.98 L254.95,285.45 L255.71,283.91 L256.47,282.36 L257.22,280.82 L257.96,279.28 L258.69,277.73 L259.42,276.18 L260.14,274.63 L260.85,273.07 L261.56,271.52 L262.25,269.95 L262.94,268.39 L263.63,266.81 L264.30,265.24 L264.96,263.66 L265.62,262.07 L266.27,260.48 L266.91,258.89 L267.54,257.29 L268.17,255.69 L268.79,254.08 L269.40,252.47 L270.00,250.86 L270.60,249.24 L271.18,247.62 L271.77,246.00 L272.34,244.38 L272.91,242.75 L273.47,241.11 L274.03,239.48 L274.57,237.84 L275.12,236.20 L275.65,234.56 L276.18,232.92 L276.71,231.27 L277.22,229.62 L277.73,227.97 L278.24,226.32 L278.74,224.67 L279.23,223.01 L279.72,221.36 L280.21,219.70 L280.69,218.04 L281.16,216.38 L281.63,214.72 L282.10,213.05 L282.56,211.39 L283.02,209.73 L283.47,208.06 L283.92,206.39 L284.37,204.73 L284.81,203.06 L285.25,201.39 L285.69,199.72 L286.12,198.05 L286.56,196.38 L286.99,194.71 L287.42,193.04 L287.84,191.37 L288.27,189.70 L288.69,188.02 L289.12,186.35 L289.54,184.68 L289.96,183.01 L290.38,181.34 L290.80,179.67 L291.22,177.99 L291.64,176.32 L292.06,174.65 L292.48,172.98 L292.90,171.31 L293.33,169.64 L293.75,167.98 L294.18,166.31 L294.60,164.64 L295.03,162.97 L295.46,161.31 L295.89,159.64 L296.32,157.98 L296.76,156.32 L297.20,154.66 L297.64,153.00 L298.09,151.34 L298.53,149.67 L298.98,148.01 L299.43,146.33 L299.88,144.65 L300.33,142.96 L300.78,141.26 L301.23,139.54 L301.67,137.81 L302.12,136.06 L302.56,134.32 L303.01,132.59 L303.45,130.87 L303.90,129.18 L304.34,127.52 L304.79,125.91 L305.24,124.36 L305.69,122.86 L306.15,121.44 L306.61,120.09 L307.07,118.83 L307.53,117.63 L307.97,116.36 L308.41,115.01 L308.83,113.59 L309.24,112.09 L309.64,110.54 L310.03,108.94 L310.43,107.30 L310.82,105.62 L311.22,103.91 L311.62,102.18 L312.02,100.44 L312.44,98.69 L312.86,96.94 L313.30,95.20 L313.76,93.47 L314.24,91.77 L314.73,90.10 L315.24,88.44 L315.78,86.81 L316.33,85.20 L316.91,83.60 L317.51,82.01 L318.13,80.44 L318.77,78.87 L319.44,77.31 L320.13,75.76 L320.84,74.20 L321.58,72.64 L322.35,71.09 L323.14,69.52 L323.95,67.95 L324.81,66.38 L325.74,64.87 L326.80,63.48 L328.03,62.26 L329.48,61.26 L331.13,60.61 L332.81,60.55 L334.34,61.22 L335.71,62.40 L336.92,63.80 L337.98,65.25 L338.91,66.73 L339.73,68.23 L340.49,69.75 L341.20,71.30 L341.89,72.86 L342.58,74.43 L343.25,76.02 L343.91,77.63 L344.54,79.24 L345.15,80.87 L345.72,82.50 L346.27,84.14 L346.80,85.78 L347.30,87.43 L347.79,89.09 L348.25,90.75 L348.71,92.41 L349.15,94.07 L349.59,95.73 L350.02,97.40 L350.44,99.06 L350.87,100.72 L351.29,102.38 L351.71,104.05 L352.12,105.71 L352.54,107.37 L352.95,109.03 L353.36,110.69 L353.77,112.35 L354.18,114.02 L354.58,115.68 L354.98,117.34 L355.38,119.00 L355.78,120.67 L356.18,122.33 L356.57,123.99 L356.96,125.66 L357.36,127.33 L357.74,128.99 L358.13,130.66 L358.52,132.33 L358.90,134.00 L359.28,135.67 L359.66,137.35 L360.04,139.02 L360.42,140.70 L360.79,142.38 L361.16,144.06 L361.54,145.74 L361.91,147.42 L362.27,149.10 L362.64,150.78 L363.01,152.46 L363.37,154.15 L363.73,155.83 L364.10,157.52 L364.46,159.21 L364.82,160.90 L365.17,162.58 L365.53,164.27 L365.89,165.96 L366.24,167.65 L366.60,169.34 L366.95,171.04 L367.30,172.73 L367.65,174.42 L368.00,176.11 L368.35,177.80 L368.70,179.50 L369.04,181.19 L369.39,182.88 L369.74,184.58 L370.08,186.27 L370.43,187.96 L370.77,189.66 L371.11,191.35 L371.46,193.04 L371.80,194.74 L372.14,196.43 L372.48,198.12 L372.82,199.82 L373.16,201.51 L373.50,203.20 L373.84,204.89 L374.18,206.58 L374.52,208.27 L374.86,209.96 L375.20,211.65 L375.54,213.34 L375.88,215.03 L376.22,216.72 L376.56,218.41 L376.90,220.10 L377.24,221.78 L377.57,223.47 L377.91,225.15 L378.25,226.84 L378.59,228.53 L378.93,230.21 L379.27,231.90 L379.62,233.58 L379.96,235.27 L380.30,236.95 L380.64,238.64 L380.99,240.32 L381.33,242.01 L381.67,243.69 L382.02,245.38 L382.36,247.06 L382.71,248.75 L383.06,250.43 L383.41,252.12 L383.76,253.81 L384.11,255.49 L384.46,257.18 L384.81,258.87 L385.16,260.55 L385.52,262.24 L385.87,263.93 L386.23,265.62 L386.59,267.31 L386.95,269.00 L387.31,270.69 L387.67,272.38 L388.03,274.07 L388.40,275.76 L388.76,277.46 L389.13,279.15 L389.50,280.84 L389.88,282.53 L390.26,284.23 L390.64,285.92 L391.04,287.61 L391.43,289.29 L391.84,290.98 L392.26,292.66 L392.68,294.33 L393.12,296.01 L393.57,297.67 L394.03,299.34 L394.51,300.99 L395.00,302.65 L395.50,304.29 L396.02,305.93 L396.56,307.56 L397.11,309.18 L397.69,310.80 L398.28,312.41 L398.89,314.00 L399.53,315.59 L400.19,317.17 L400.87,318.73 L401.57,320.29 L402.30,321.83 L403.06,323.36 L403.86,324.86 L404.72,326.33 L405.63,327.75 L406.62,329.12 L407.69,330.42 L408.85,331.64 L410.12,332.78 L411.51,333.83 L413.01,334.78 L414.61,335.63 L416.26,336.42 L417.95,337.14 L419.63,337.82 L421.31,338.46 L422.97,339.07 L424.63,339.64 L426.29,340.18 L427.94,340.68 L429.59,341.16 L431.24,341.60 L432.88,342.03 L434.54,342.42 L436.19,342.80 L437.85,343.15 L439.52,343.49 L441.19,343.80 L442.87,344.10 L444.55,344.38 L446.23,344.64 L447.92,344.89 L449.62,345.11 L451.32,345.33 L453.02,345.52 L454.73,345.71 L456.44,345.87 L458.15,346.03 L459.86,346.17 L461.58,346.30 L463.31,346.42 L465.03,346.52 L466.76,346.62 L468.49,346.70 L470.22,346.78 L471.95,346.80 L473.68,346.80 L475.42,346.80 L477.16,346.80 L478.90,346.80 L480.63,346.80 L482.37,346.80 L484.11,346.80 L485.85,346.80 L487.60,346.80 L489.34,346.80 L491.08,346.80 L492.82,346.80 L494.56,346.80 L496.29,346.80 L498.03,346.80 L499.77,346.80 L501.50,346.80 L503.24,346.80 L504.97,346.80 L506.70,346.80 L508.42,346.80 L510.15,346.80 L511.87,346.80 L513.59,346.80 L515.31,346.80 L517.02,346.80 L518.73,346.80 L520.44,346.80 L522.14,346.80 L523.84,346.80 L525.54,346.80" fill="none" stroke="#008080" stroke-width="2.6" stroke-dasharray="9.5 7.9 1.8 8.1 1.8 7.8" stroke-dashoffset="9.91"/>
<path d="M65.62,346.80 L67.18,346.80 L68.76,346.80 L70.35,346.80 L71.94,346.80 L73.55,346.80 L75.16,346.80 L76.79,346.80 L78.42,346.80 L80.05,346.80 L81.69,346.80 L83.34,346.78 L84.99,346.76 L86.65,346.74 L88.31,346.73 L89.98,346.70 L91.65,346.68 L93.31,346.65 L94.99,346.61 L96.66,346.57 L98.33,346.51 L100.00,346.45 L101.67,346.38 L103.34,346.30 L105.01,346.20 L106.68,346.09 L108.34,345.96 L110.00,345.82 L111.65,345.67 L113.30,345.49 L114.95,345.29 L116.59,345.08 L118.22,344.84 L119.85,344.58 L121.46,344.29 L123.07,343.99 L124.67,343.65 L126.26,343.29 L127.84,342.90 L129.41,342.48 L130.97,342.03 L132.52,341.55 L134.06,341.03 L135.58,340.49 L137.09,339.90 L138.58,339.28 L140.06,338.63 L141.53,337.94 L142.99,337.22 L144.43,336.47 L145.86,335.69 L147.28,334.89 L148.69,334.06 L150.09,333.21 L151.48,332.33 L152.86,331.44 L154.23,330.53 L155.59,329.60 L156.95,328.66 L158.30,327.71 L159.65,326.74 L160.99,325.77 L162.32,324.79 L163.65,323.80 L164.98,322.82 L166.30,321.83 L167.62,320.84 L168.94,319.85 L170.25,318.86 L171.55,317.87 L172.85,316.87 L174.14,315.87 L175.41,314.86 L176.67,313.85 L177.92,312.82 L179.15,311.79 L180.36,310.75 L181.55,309.69 L182.72,308.62 L183.87,307.54 L184.99,306.48 L186.09,305.44 L187.17,304.45 L188.23,303.52 L189.27,302.67 L190.29,301.92 L191.30,301.25 L192.34,300.51 L193.42,299.66 L194.52,298.72 L195.63,297.71 L196.75,296.63 L197.87,295.50 L198.97,294.33 L200.04,293.14 L201.09,291.92 L202.11,290.68 L203.11,289.42 L204.08,288.14 L205.04,286.83 L205.97,285.51 L206.88,284.17 L207.77,282.81 L208.64,281.44 L209.49,280.05 L210.32,278.64 L211.13,277.22 L211.93,275.78 L212.71,274.33 L213.47,272.87 L214.22,271.40 L214.95,269.92 L215.67,268.43 L216.38,266.93 L217.07,265.42 L217.75,263.91 L218.42,262.39 L219.07,260.86 L219.72,259.33 L220.36,257.80 L220.99,256.26 L221.61,254.72 L222.22,253.18 L222.83,251.64 L223.42,250.09 L224.01,248.55 L224.60,247.00 L225.17,245.45 L225.74,243.90 L226.30,242.35 L226.86,240.80 L227.41,239.25 L227.95,237.69 L228.48,236.13 L229.01,234.57 L229.54,233.01 L230.05,231.45 L230.57,229.89 L231.07,228.33 L231.57,226.76 L232.07,225.20 L232.56,223.63 L233.05,222.06 L233.53,220.49 L234.00,218.92 L234.48,217.35 L234.94,215.78 L235.41,214.21 L235.87,212.63 L236.32,211.06 L236.77,209.48 L237.22,207.90 L237.67,206.33 L238.11,204.75 L238.55,203.17 L238.98,201.59 L239.42,200.01 L239.85,198.42 L240.27,196.84 L240.70,195.26 L241.12,193.67 L241.54,192.09 L241.96,190.50 L242.38,188.92 L242.79,187.33 L243.21,185.74 L243.62,184.16 L244.03,182.57 L244.44,180.98 L244.85,179.39 L245.26,177.80 L245.66,176.21 L246.07,174.62 L246.48,173.03 L246.88,171.44 L247.29,169.84 L247.70,168.25 L248.10,166.66 L248.51,165.07 L248.92,163.47 L249.32,161.88 L249.73,160.29 L250.14,158.69 L250.54,157.10 L250.95,155.50 L251.35,153.91 L251.76,152.32 L252.17,150.72 L252.57,149.13 L252.98,147.53 L253.39,145.94 L253.79,144.34 L254.20,142.74 L254.61,141.15 L255.01,139.55 L255.42,137.96 L255.83,136.36 L256.24,134.77 L256.64,133.17 L257.05,131.57 L257.46,129.98 L257.87,128.38 L258.27,126.79 L258.68,125.19 L259.09,123.59 L259.50,122.00 L259.91,120.40 L260.32,118.81 L260.72,117.21 L261.13,115.61 L261.55,114.02 L261.96,112.43 L262.38,110.84 L262.81,109.25 L263.24,107.66 L263.68,106.08 L264.14,104.50 L264.60,102.93 L265.08,101.36 L265.57,99.79 L266.08,98.24 L266.60,96.69 L267.14,95.14 L267.71,93.61 L268.29,92.08 L268.90,90.56 L269.53,89.05 L270.18,87.55 L270.86,86.06 L271.57,84.58 L272.31,83.11 L273.08,81.66 L273.88,80.21 L274.72,78.78 L275.59,77.36 L276.50,75.97 L277.47,74.62 L278.53,73.35 L279.69,72.17 L280.97,71.11 L282.39,70.20 L283.94,69.48 L285.55,69.07 L287.13,69.10 L288.61,69.64 L289.98,70.57 L291.26,71.73 L292.45,72.97 L293.57,74.25 L294.62,75.56 L295.61,76.90 L296.54,78.27 L297.41,79.67 L298.23,81.09 L299.01,82.53 L299.74,83.99 L300.45,85.47 L301.12,86.96 L301.77,88.46 L302.39,89.97 L303.00,91.49 L303.60,93.02 L304.20,94.54 L304.78,96.08 L305.35,97.61 L305.91,99.15 L306.47,100.70 L307.01,102.24 L307.55,103.79 L308.08,105.35 L308.60,106.90 L309.12,108.46 L309.62,110.02 L310.12,111.59 L310.62,113.16 L311.10,114.73 L311.58,116.30 L312.06,117.88 L312.52,119.45 L312.99,121.03 L313.44,122.61 L313.89,124.20 L314.34,125.78 L314.78,127.37 L315.22,128.95 L315.65,130.54 L316.08,132.13 L316.51,133.72 L316.93,135.31 L317.34,136.91 L317.76,138.50 L318.17,140.09 L318.58,141.69 L318.99,143.28 L319.39,144.88 L319.79,146.47 L320.19,148.07 L320.58,149.67 L320.98,151.26 L321.37,152.86 L321.76,154.46 L322.15,156.06 L322.53,157.65 L322.92,159.25 L323.30,160.85 L323.68,162.45 L324.06,164.05 L324.44,165.65 L324.82,167.25 L325.20,168.85 L325.57,170.45 L325.95,172.05 L326.32,173.65 L326.69,175.25 L327.07,176.85 L327.44,178.45 L327.81,180.05 L328.19,181.66 L328.56,183.26 L328.93,184.86 L329.31,186.46 L329.68,188.06 L330.05,189.66 L330.43,191.26 L330.81,192.86 L331.18,194.45 L331.56,196.05 L331.94,197.65 L332.32,199.25 L332.70,200.85 L333.08,202.45 L333.46,204.04 L333.85,205.64 L334.24,207.24 L334.63,208.83 L335.02,210.43 L335.41,212.02 L335.80,213.62 L336.20,215.21 L336.60,216.81 L337.00,218.40 L337.41,219.99 L337.82,221.58 L338.23,223.17 L338.64,224.76 L339.06,226.35 L339.48,227.94 L339.90,229.53 L340.33,231.11 L340.76,232.70 L341.19,234.28 L341.63,235.87 L342.07,237.45 L342.52,239.03 L342.97,240.61 L343.42,242.20 L343.88,243.77 L344.34,245.35 L344.81,246.93 L345.28,248.51 L345.76,250.08 L346.24,251.65 L346.73,253.23 L347.22,254.80 L347.72,256.37 L348.23,257.93 L348.74,259.50 L349.26,261.06 L349.79,262.62 L350.33,264.17 L350.87,265.72 L351.43,267.27 L351.99,268.82 L352.57,270.36 L353.16,271.89 L353.75,273.42 L354.36,274.95 L354.98,276.47 L355.62,277.98 L356.26,279.49 L356.92,280.99 L357.60,282.49 L358.28,283.98 L358.99,285.46 L359.71,286.94 L360.44,288.41 L361.19,289.87 L361.95,291.32 L362.74,292.77 L363.54,294.20 L364.35,295.63 L365.19,297.05 L366.05,298.46 L366.92,299.86 L367.81,301.25 L368.73,302.63 L369.66,304.00 L370.62,305.34 L371.60,306.67 L372.61,307.98 L373.64,309.27 L374.69,310.52 L375.78,311.76 L376.89,312.96 L378.03,314.13 L379.20,315.27 L380.40,316.37 L381.63,317.44 L382.88,318.47 L384.17,319.47 L385.48,320.44 L386.81,321.39 L388.15,322.32 L389.51,323.23 L390.88,324.14 L392.26,325.03 L393.64,325.93 L395.02,326.82 L396.41,327.73 L397.79,328.64 L399.16,329.56 L400.52,330.50 L401.88,331.44 L403.23,332.39 L404.59,333.34 L405.94,334.28 L407.30,335.21 L408.66,336.13 L410.03,337.02 L411.41,337.89 L412.80,338.73 L414.20,339.53 L415.63,340.29 L417.07,341.00 L418.53,341.67 L420.02,342.28 L421.52,342.83 L423.06,343.33 L424.61,343.78 L426.18,344.18 L427.77,344.53 L429.38,344.84 L431.00,345.11 L432.63,345.35 L434.28,345.56 L435.94,345.73 L437.60,345.88 L439.27,346.00 L440.95,346.11 L442.63,346.19 L444.31,346.26 L446.00,346.32 L447.68,346.38 L449.36,346.42 L451.04,346.47 L452.72,346.51 L454.38,346.55 L456.05,346.59 L457.71,346.64 L459.37,346.68 L461.03,346.71 L462.68,346.75 L464.33,346.79 L465.97,346.80 L467.62,346.80 L469.26,346.80 L470.90,346.80 L472.53,346.80 L474.17,346.80 L475.80,346.80 L477.44,346.80 L479.07,346.80 L480.70,346.80 L482.33,346.80 L483.96,346.80 L485.58,346.80 L487.21,346.80 L488.84,346.80 L490.47,346.80 L492.10,346.80 L493.73,346.80 L495.36,346.80 L496.99,346.80 L498.62,346.80 L500.25,346.80 L501.89,346.80 L503.53,346.80 L505.16,346.80 L506.81,346.80 L508.45,346.80 L510.09,346.80 L511.74,346.80 L513.39,346.80 L515.05,346.80 L516.71,346.80 L518.37,346.80 L520.03,346.80 L521.70,346.80 L523.37,346.80 L525.05,346.80" fill="none" stroke="#8000ff" stroke-width="2.6" stroke-dasharray="4.3 6.8" stroke-dashoffset="10.20"/>
<path d="M65.56,346.80 L67.13,346.80 L68.69,346.80 L70.26,346.80 L71.83,346.80 L73.41,346.80 L74.99,346.80 L76.58,346.80 L78.16,346.78 L79.75,346.75 L81.34,346.72 L82.94,346.69 L84.53,346.67 L86.13,346.66 L87.73,346.64 L89.33,346.63 L90.94,346.61 L92.54,346.60 L94.15,346.59 L95.75,346.58 L97.36,346.56 L98.97,346.54 L100.58,346.52 L102.19,346.49 L103.79,346.46 L105.40,346.43 L107.01,346.39 L108.62,346.34 L110.22,346.28 L111.83,346.22 L113.43,346.14 L115.03,346.06 L116.63,345.97 L118.23,345.86 L119.83,345.75 L121.42,345.62 L123.01,345.48 L124.60,345.32 L126.19,345.15 L127.77,344.97 L129.35,344.77 L130.93,344.55 L132.50,344.31 L134.07,344.06 L135.64,343.79 L137.20,343.50 L138.76,343.19 L140.31,342.85 L141.86,342.50 L143.40,342.12 L144.94,341.72 L146.47,341.30 L148.00,340.86 L149.52,340.40 L151.04,339.93 L152.56,339.44 L154.07,338.94 L155.58,338.43 L157.09,337.91 L158.60,337.39 L160.11,336.87 L161.61,336.34 L163.12,335.82 L164.62,335.30 L166.13,334.79 L167.63,334.28 L169.14,333.78 L170.65,333.30 L172.16,332.83 L173.67,332.37 L175.19,331.94 L176.71,331.52 L178.23,331.13 L179.76,330.76 L181.29,330.41 L182.82,330.10 L184.36,329.80 L185.90,329.53 L187.45,329.27 L189.00,329.03 L190.55,328.80 L192.11,328.59 L193.66,328.38 L195.22,328.18 L196.79,327.98 L198.35,327.79 L199.92,327.59 L201.49,327.39 L203.06,327.19 L204.63,326.98 L206.20,326.75 L207.77,326.52 L209.35,326.27 L210.92,326.01 L212.50,325.72 L214.07,325.42 L215.64,325.09 L217.22,324.73 L218.78,324.35 L220.34,323.93 L221.89,323.48 L223.42,322.99 L224.92,322.45 L226.40,321.88 L227.84,321.25 L229.24,320.57 L230.60,319.83 L231.92,319.04 L233.17,318.19 L234.37,317.27 L235.51,316.28 L236.61,315.24 L237.69,314.17 L238.79,313.10 L239.92,312.05 L241.10,311.00 L242.29,309.96 L243.49,308.92 L244.70,307.86 L245.89,306.80 L247.06,305.70 L248.20,304.58 L249.30,303.42 L250.34,302.22 L251.33,300.97 L252.28,299.70 L253.18,298.39 L254.06,297.06 L254.91,295.70 L255.73,294.33 L256.54,292.95 L257.34,291.56 L258.12,290.16 L258.91,288.77 L259.70,287.38 L260.50,285.99 L261.30,284.61 L262.10,283.24 L262.90,281.87 L263.69,280.49 L264.48,279.12 L265.27,277.74 L266.04,276.36 L266.80,274.97 L267.55,273.58 L268.29,272.17 L269.02,270.77 L269.73,269.35 L270.43,267.93 L271.13,266.51 L271.81,265.08 L272.48,263.64 L273.14,262.20 L273.79,260.75 L274.44,259.30 L275.07,257.84 L275.70,256.38 L276.32,254.91 L276.93,253.44 L277.53,251.97 L278.13,250.49 L278.72,249.01 L279.30,247.53 L279.87,246.04 L280.45,244.55 L281.01,243.06 L281.57,241.56 L282.13,240.07 L282.68,238.57 L283.23,237.06 L283.77,235.56 L284.31,234.06 L284.85,232.55 L285.38,231.04 L285.91,229.53 L286.44,228.02 L286.97,226.51 L287.50,225.00 L288.02,223.49 L288.55,221.98 L289.07,220.47 L289.60,218.96 L290.12,217.45 L290.65,215.94 L291.17,214.43 L291.70,212.92 L292.23,211.41 L292.76,209.90 L293.29,208.40 L293.82,206.89 L294.35,205.39 L294.88,203.88 L295.41,202.38 L295.94,200.88 L296.47,199.37 L297.01,197.87 L297.54,196.37 L298.07,194.86 L298.60,193.36 L299.14,191.86 L299.67,190.36 L300.21,188.86 L300.74,187.36 L301.27,185.85 L301.81,184.35 L302.34,182.85 L302.87,181.35 L303.41,179.85 L303.94,178.35 L304.47,176.85 L305.00,175.34 L305.54,173.84 L306.07,172.34 L306.60,170.84 L307.13,169.33 L307.66,167.83 L308.19,166.32 L308.72,164.82 L309.25,163.31 L309.77,161.81 L310.30,160.30 L310.83,158.80 L311.36,157.29 L311.88,155.78 L312.41,154.27 L312.94,152.77 L313.47,151.26 L314.00,149.75 L314.53,148.25 L315.06,146.74 L315.59,145.24 L316.13,143.73 L316.67,142.23 L317.21,140.72 L317.75,139.22 L318.30,137.72 L318.85,136.22 L319.40,134.72 L319.96,133.22 L320.52,131.73 L321.08,130.23 L321.65,128.74 L322.22,127.25 L322.80,125.76 L323.38,124.27 L323.97,122.78 L324.56,121.30 L325.17,119.83 L325.79,118.36 L326.43,116.90 L327.08,115.45 L327.74,114.01 L328.43,112.59 L329.14,111.17 L329.87,109.77 L330.63,108.39 L331.41,107.02 L332.23,105.67 L333.07,104.34 L333.94,103.02 L334.85,101.73 L335.80,100.47 L336.78,99.22 L337.80,98.00 L338.87,96.81 L339.99,95.67 L341.16,94.58 L342.41,93.58 L343.74,92.67 L345.16,91.89 L346.66,91.28 L348.20,90.92 L349.75,90.87 L351.29,91.18 L352.77,91.79 L354.17,92.62 L355.46,93.61 L356.63,94.72 L357.71,95.92 L358.71,97.19 L359.66,98.49 L360.57,99.82 L361.44,101.15 L362.29,102.50 L363.11,103.85 L363.90,105.22 L364.66,106.60 L365.40,107.99 L366.12,109.39 L366.81,110.80 L367.47,112.23 L368.12,113.66 L368.75,115.11 L369.36,116.56 L369.95,118.03 L370.53,119.51 L371.09,120.99 L371.64,122.48 L372.18,123.97 L372.71,125.47 L373.23,126.98 L373.74,128.49 L374.24,130.00 L374.74,131.51 L375.24,133.03 L375.72,134.54 L376.21,136.06 L376.69,137.58 L377.16,139.10 L377.63,140.62 L378.10,142.15 L378.56,143.67 L379.02,145.20 L379.47,146.73 L379.92,148.26 L380.36,149.79 L380.80,151.32 L381.24,152.85 L381.67,154.39 L382.09,155.92 L382.52,157.46 L382.94,159.00 L383.35,160.53 L383.77,162.08 L384.17,163.62 L384.58,165.16 L384.98,166.70 L385.38,168.25 L385.77,169.79 L386.17,171.34 L386.55,172.89 L386.94,174.43 L387.32,175.98 L387.70,177.53 L388.07,179.08 L388.45,180.63 L388.82,182.19 L389.18,183.74 L389.55,185.29 L389.91,186.85 L390.27,188.40 L390.62,189.96 L390.98,191.51 L391.33,193.07 L391.68,194.63 L392.03,196.19 L392.37,197.74 L392.71,199.30 L393.05,200.86 L393.39,202.42 L393.73,203.98 L394.06,205.54 L394.39,207.10 L394.72,208.66 L395.05,210.23 L395.38,211.79 L395.70,213.35 L396.03,214.91 L396.35,216.47 L396.67,218.03 L396.99,219.60 L397.31,221.16 L397.62,222.72 L397.94,224.28 L398.25,225.85 L398.56,227.41 L398.87,228.97 L399.18,230.54 L399.49,232.10 L399.79,233.66 L400.10,235.23 L400.40,236.79 L400.70,238.36 L401.00,239.92 L401.29,241.49 L401.59,243.05 L401.88,244.62 L402.17,246.18 L402.45,247.75 L402.74,249.31 L403.02,250.88 L403.30,252.45 L403.58,254.01 L403.86,255.58 L404.13,257.15 L404.40,258.72 L404.67,260.29 L404.93,261.85 L405.20,263.42 L405.46,264.99 L405.71,266.56 L405.97,268.13 L406.22,269.70 L406.47,271.27 L406.72,272.85 L406.96,274.42 L407.20,275.99 L407.44,277.56 L407.67,279.14 L407.91,280.71 L408.15,282.28 L408.39,283.86 L408.63,285.43 L408.87,287.00 L409.12,288.57 L409.37,290.15 L409.63,291.72 L409.89,293.29 L410.16,294.86 L410.44,296.43 L410.73,298.00 L411.02,299.57 L411.33,301.14 L411.65,302.70 L411.98,304.27 L412.32,305.83 L412.68,307.40 L413.05,308.96 L413.44,310.52 L413.84,312.07 L414.28,313.62 L414.74,315.15 L415.23,316.67 L415.76,318.17 L416.34,319.66 L416.95,321.12 L417.62,322.55 L418.33,323.96 L419.11,325.33 L419.94,326.68 L420.83,327.98 L421.78,329.25 L422.78,330.47 L423.83,331.65 L424.93,332.78 L426.08,333.86 L427.27,334.89 L428.51,335.87 L429.79,336.79 L431.10,337.64 L432.45,338.44 L433.84,339.17 L435.26,339.85 L436.71,340.47 L438.18,341.04 L439.68,341.55 L441.20,342.02 L442.75,342.45 L444.31,342.84 L445.89,343.20 L447.48,343.52 L449.08,343.81 L450.69,344.07 L452.30,344.31 L453.92,344.53 L455.55,344.73 L457.17,344.92 L458.79,345.09 L460.40,345.26 L462.01,345.43 L463.61,345.59 L465.20,345.74 L466.78,345.89 L468.37,346.04 L469.94,346.18 L471.51,346.32 L473.08,346.45 L474.64,346.58 L476.20,346.70 L477.75,346.80 L479.30,346.80 L480.86,346.80 L482.41,346.80 L483.96,346.80 L485.50,346.80 L487.05,346.80 L488.60,346.80 L490.15,346.80 L491.71,346.80 L493.26,346.80 L494.82,346.80 L496.38,346.80 L497.95,346.80 L499.51,346.80 L501.09,346.80 L502.67,346.80 L504.25,346.80 L505.84,346.80 L507.44,346.80 L509.04,346.80 L510.66,346.80 L512.28,346.80 L513.91,346.80 L515.55,346.80 L517.19,346.80 L518.85,346.80 L520.52,346.80 L522.20,346.80 L523.90,346.80 L525.60,346.80" fill="none" stroke="#808000" stroke-width="2.6" stroke-dasharray="8 5.3 0.6 5.3" stroke-dashoffset="4.28"/>
<path d="M65.52,346.80 L67.20,346.80 L68.89,346.80 L70.57,346.80 L72.25,346.80 L73.94,346.80 L75.62,346.80 L77.31,346.80 L78.99,346.80 L80.68,346.80 L82.36,346.80 L84.05,346.80 L85.73,346.80 L87.42,346.80 L89.10,346.80 L90.79,346.80 L92.47,346.80 L94.16,346.80 L95.85,346.80 L97.53,346.80 L99.22,346.80 L100.90,346.80 L102.59,346.80 L104.28,346.80 L105.96,346.80 L107.65,346.80 L109.34,346.80 L111.03,346.80 L112.71,346.80 L114.40,346.80 L116.09,346.80 L117.78,346.80 L119.46,346.80 L121.15,346.80 L122.84,346.80 L124.53,346.80 L126.21,346.80 L127.90,346.80 L129.59,346.80 L131.28,346.80 L132.97,346.80 L134.65,346.80 L136.34,346.80 L138.03,346.80 L139.72,346.80 L141.41,346.80 L143.09,346.80 L144.78,346.80 L146.47,346.80 L148.16,346.80 L149.85,346.80 L151.54,346.80 L153.22,346.80 L154.91,346.80 L156.60,346.80 L158.29,346.80 L159.98,346.80 L161.66,346.80 L163.35,346.80 L165.04,346.80 L166.73,346.80 L168.42,346.80 L170.10,346.80 L171.79,346.80 L173.48,346.80 L175.17,346.80 L176.85,346.80 L178.54,346.80 L180.23,346.80 L181.92,346.80 L183.60,346.80 L185.29,346.80 L186.98,346.80 L188.66,346.80 L190.35,346.80 L192.04,346.80 L193.72,346.80 L195.41,346.80 L197.10,346.80 L198.78,346.80 L200.47,346.80 L202.15,346.80 L203.84,346.80 L205.52,346.80 L207.21,346.80 L208.89,346.80 L210.58,346.80 L212.26,346.80 L213.95,346.80 L215.63,346.80 L217.32,346.80 L219.00,346.80 L220.68,346.80 L222.37,346.80 L224.05,346.80 L225.73,346.80 L227.42,346.80 L229.10,346.80 L230.78,346.80 L232.47,346.80 L234.15,346.80 L235.83,346.80 L237.51,346.80 L239.19,346.80 L240.88,346.80 L242.56,346.80 L244.24,346.80 L245.92,346.80 L247.61,346.80 L249.29,346.80 L250.97,346.80 L252.66,346.80 L254.34,346.80 L256.03,346.80 L257.71,346.80 L259.40,346.80 L261.08,346.80 L262.77,346.80 L264.46,346.80 L266.15,346.80 L267.84,346.80 L269.53,346.75 L271.23,346.68 L272.92,346.61 L274.61,346.53 L276.31,346.45 L278.01,346.36 L279.71,346.26 L281.41,346.15 L283.11,346.04 L284.81,345.92 L286.51,345.78 L288.22,345.63 L289.91,345.46 L291.60,345.25 L293.27,344.99 L294.92,344.69 L296.54,344.31 L298.14,343.87 L299.71,343.34 L301.24,342.73 L302.74,342.03 L304.20,341.25 L305.62,340.41 L307.01,339.49 L308.37,338.51 L309.70,337.47 L310.99,336.38 L312.24,335.25 L313.47,334.06 L314.66,332.84 L315.82,331.59 L316.94,330.31 L318.04,329.00 L319.10,327.67 L320.13,326.33 L321.13,324.97 L322.10,323.60 L323.04,322.21 L323.95,320.80 L324.84,319.38 L325.70,317.95 L326.53,316.50 L327.34,315.04 L328.12,313.56 L328.88,312.08 L329.62,310.58 L330.33,309.07 L331.03,307.55 L331.70,306.01 L332.35,304.47 L332.98,302.92 L333.60,301.36 L334.19,299.79 L334.77,298.21 L335.33,296.62 L335.88,295.03 L336.41,293.43 L336.93,291.82 L337.43,290.21 L337.93,288.59 L338.41,286.96 L338.87,285.33 L339.33,283.70 L339.78,282.06 L340.22,280.42 L340.65,278.78 L341.08,277.13 L341.49,275.48 L341.90,273.83 L342.31,272.18 L342.71,270.53 L343.11,268.87 L343.50,267.22 L343.90,265.57 L344.29,263.92 L344.68,262.27 L345.07,260.62 L345.46,258.97 L345.84,257.33 L346.23,255.68 L346.61,254.04 L347.00,252.39 L347.38,250.75 L347.76,249.11 L348.14,247.47 L348.52,245.83 L348.89,244.19 L349.27,242.55 L349.64,240.91 L350.02,239.27 L350.39,237.63 L350.76,236.00 L351.13,234.36 L351.49,232.72 L351.86,231.08 L352.22,229.44 L352.59,227.81 L352.95,226.17 L353.31,224.53 L353.66,222.89 L354.02,221.25 L354.38,219.61 L354.73,217.97 L355.08,216.33 L355.43,214.69 L355.78,213.05 L356.12,211.41 L356.47,209.76 L356.81,208.12 L357.15,206.47 L357.49,204.83 L357.83,203.18 L358.16,201.53 L358.49,199.88 L358.82,198.23 L359.15,196.58 L359.48,194.93 L359.81,193.27 L360.13,191.61 L360.45,189.96 L360.77,188.30 L361.09,186.63 L361.40,184.97 L361.71,183.30 L362.02,181.64 L362.33,179.97 L362.64,178.29 L362.94,176.62 L363.24,174.94 L363.54,173.27 L363.84,171.59 L364.13,169.91 L364.43,168.22 L364.73,166.54 L365.02,164.86 L365.32,163.18 L365.62,161.51 L365.93,159.83 L366.23,158.16 L366.55,156.49 L366.86,154.83 L367.18,153.17 L367.51,151.51 L367.84,149.86 L368.18,148.22 L368.53,146.58 L368.88,144.95 L369.24,143.33 L369.62,141.72 L370.00,140.12 L370.39,138.53 L370.80,136.95 L371.22,135.37 L371.65,133.81 L372.09,132.26 L372.55,130.71 L373.02,129.17 L373.51,127.62 L374.02,126.07 L374.55,124.52 L375.10,122.95 L375.67,121.37 L376.27,119.78 L376.89,118.16 L377.54,116.53 L378.21,114.87 L378.91,113.18 L379.64,111.46 L380.43,109.77 L381.34,108.21 L382.43,106.91 L383.73,105.99 L385.15,105.63 L386.53,106.01 L387.81,107.00 L388.95,108.34 L389.94,109.79 L390.79,111.28 L391.52,112.82 L392.14,114.39 L392.66,116.00 L393.10,117.64 L393.47,119.30 L393.79,120.97 L394.07,122.66 L394.33,124.36 L394.58,126.05 L394.83,127.74 L395.08,129.43 L395.34,131.12 L395.60,132.80 L395.86,134.48 L396.12,136.16 L396.38,137.84 L396.65,139.51 L396.92,141.18 L397.18,142.85 L397.45,144.52 L397.72,146.19 L397.99,147.85 L398.26,149.51 L398.53,151.18 L398.81,152.84 L399.08,154.50 L399.35,156.15 L399.62,157.81 L399.89,159.47 L400.16,161.13 L400.44,162.78 L400.71,164.44 L400.97,166.10 L401.24,167.75 L401.51,169.41 L401.78,171.07 L402.04,172.73 L402.30,174.39 L402.57,176.04 L402.83,177.71 L403.08,179.37 L403.34,181.03 L403.59,182.69 L403.85,184.35 L404.10,186.02 L404.35,187.68 L404.60,189.35 L404.84,191.02 L405.09,192.68 L405.33,194.35 L405.58,196.02 L405.82,197.69 L406.06,199.36 L406.30,201.03 L406.54,202.70 L406.78,204.37 L407.01,206.04 L407.25,207.71 L407.49,209.39 L407.72,211.06 L407.96,212.73 L408.19,214.40 L408.42,216.08 L408.65,217.75 L408.89,219.42 L409.12,221.09 L409.35,222.77 L409.58,224.44 L409.81,226.11 L410.04,227.79 L410.28,229.46 L410.51,231.13 L410.74,232.80 L410.97,234.48 L411.20,236.15 L411.43,237.82 L411.66,239.49 L411.88,241.16 L412.11,242.84 L412.33,244.51 L412.55,246.18 L412.77,247.85 L412.99,249.52 L413.20,251.20 L413.41,252.87 L413.62,254.54 L413.82,256.22 L414.02,257.89 L414.21,259.56 L414.40,261.24 L414.59,262.91 L414.77,264.59 L414.95,266.26 L415.12,267.94 L415.28,269.61 L415.44,271.29 L415.59,272.97 L415.74,274.64 L415.88,276.32 L416.02,278.00 L416.14,279.68 L416.26,281.36 L416.37,283.04 L416.48,284.72 L416.57,286.40 L416.66,288.09 L416.74,289.77 L416.81,291.46 L416.87,293.14 L416.92,294.83 L416.96,296.51 L417.00,298.20 L417.02,299.89 L417.03,301.58 L417.04,303.27 L417.05,304.96 L417.06,306.65 L417.07,308.34 L417.09,310.03 L417.12,311.72 L417.15,313.40 L417.21,315.08 L417.28,316.76 L417.37,318.44 L417.48,320.11 L417.62,321.78 L417.78,323.45 L417.98,325.11 L418.21,326.77 L418.47,328.42 L418.78,330.06 L419.12,331.70 L419.51,333.34 L419.95,334.97 L420.44,336.59 L420.98,338.20 L421.59,339.76 L422.28,341.26 L423.07,342.67 L423.96,343.94 L424.97,345.07 L426.12,346.00 L427.42,346.73 L428.88,346.80 L430.48,346.80 L432.18,346.80 L433.97,346.80 L435.80,346.80 L437.66,346.80 L439.51,346.80 L441.33,346.80 L443.11,346.80 L444.85,346.80 L446.56,346.80 L448.25,346.80 L449.93,346.80 L451.59,346.80 L453.24,346.80 L454.89,346.80 L456.54,346.80 L458.19,346.80 L459.85,346.80 L461.52,346.80 L463.18,346.80 L464.85,346.80 L466.52,346.80 L468.20,346.80 L469.88,346.80 L471.56,346.80 L473.24,346.80 L474.92,346.80 L476.61,346.80 L478.30,346.80 L479.99,346.80 L481.68,346.80 L483.37,346.80 L485.06,346.80 L486.76,346.80 L488.45,346.80 L490.15,346.80 L491.84,346.80 L493.54,346.80 L495.24,346.80 L496.93,346.80 L498.63,346.80 L500.32,346.80 L502.02,346.80 L503.71,346.80 L505.40,346.80 L507.09,346.80 L508.78,346.80 L510.47,346.80 L512.16,346.80 L513.84,346.80 L515.53,346.80 L517.21,346.80 L518.88,346.80 L520.56,346.80 L522.23,346.80 L523.90,346.80 L525.57,346.80" fill="none" stroke="#808080" stroke-width="2.8" stroke-dasharray="1 3.9"/>
<line x1="79.8" y1="26.70" x2="120.6" y2="26.70" stroke="#7a7a7a" stroke-width="2.8"/>
<text x="125.5" y="32.90" class="t">WPC</text>
<line x1="79.8" y1="49.48" x2="120.6" y2="49.48" stroke="#ff0000" stroke-width="2.6" stroke-dasharray="10.9 13.2"/>
<text x="125.5" y="55.68" class="t">WPMP(3.5)</text>
<line x1="79.8" y1="72.26" x2="120.6" y2="72.26" stroke="#0000ff" stroke-width="2.6" stroke-dasharray="10.9 13.2"/>
<text x="125.5" y="78.46" class="t">WPMP(4.5)</text>
<line x1="79.8" y1="95.04" x2="120.6" y2="95.04" stroke="#008080" stroke-width="2.6" stroke-dasharray="9.5 7.9 1.8 8.1 1.8 7.8"/>
<text x="125.5" y="101.24" class="t">WPMP(5.5)</text>
<line x1="79.8" y1="117.82" x2="120.6" y2="117.82" stroke="#8000ff" stroke-width="2.6" stroke-dasharray="4.3 6.8"/>
<text x="125.5" y="124.02" class="t">WPMP(6.5)</text>
<line x1="79.8" y1="140.60" x2="120.6" y2="140.60" stroke="#808000" stroke-width="2.6" stroke-dasharray="8 5.3 0.6 5.3"/>
<text x="125.5" y="146.80" class="t">WPMP(7.5)</text>
<line x1="79.8" y1="163.38" x2="120.6" y2="163.38" stroke="#808080" stroke-width="2.8" stroke-dasharray="1 3.9"/>
<text x="125.5" y="169.58" class="t">WPMP(8.5)</text>
</svg>
</body></html>
